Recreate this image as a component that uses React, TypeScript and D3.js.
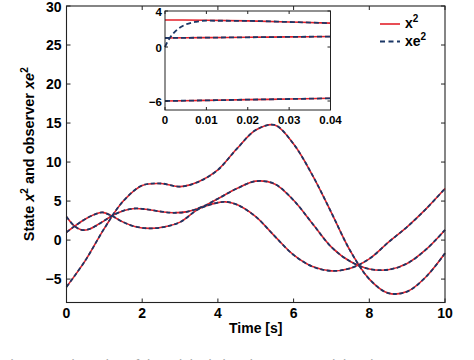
import React from 'react';
import * as d3 from 'd3';

// main plot: time axis
const tA = [0, 0.5, 1, 1.5, 2, 2.5, 3, 3.5, 4, 4.5, 5, 5.5, 6, 6.5, 7, 7.5, 8, 8.5, 9, 9.5, 10];
const stateA = [-6.0, -2.6, 1.5, 5.0, 7.0, 7.25, 6.85, 7.5, 9.0, 11.7, 14.1, 14.75, 12.3, 8.3, 3.5, -1.4, -5.0, -6.8, -6.6, -4.7, -1.7];

const tB = [0, 0.2, 0.4, 0.6, 0.8, 1.0, 1.2, 1.5, 1.8, 2.1, 2.5, 2.8, 3.2, 3.6, 4.0, 4.5, 5.0, 5.5, 6.0, 6.5, 7.0, 7.5, 8.0, 8.5, 9.0, 9.5, 10];
const stateB = [3.0, 1.85, 1.3, 1.4, 1.9, 2.5, 3.1, 3.75, 4.05, 3.95, 3.65, 3.5, 3.65, 4.3, 5.3, 6.6, 7.55, 7.2, 5.1, 2.1, -0.9, -2.75, -3.7, -3.8, -3.0, -1.2, 1.3];

const tC = [0, 0.25, 0.5, 0.75, 0.95, 1.2, 1.5, 1.8, 2.2, 2.6, 3.0, 3.5, 4.0, 4.2, 4.5, 5.0, 5.5, 6.0, 6.5, 7.0, 7.5, 8.0, 8.5, 9.0, 9.5, 10];
const stateC = [1.0, 1.9, 2.7, 3.3, 3.55, 3.1, 2.3, 1.75, 1.5, 1.7, 2.3, 4.0, 4.8, 4.9, 4.55, 3.0, 0.5, -1.9, -3.4, -3.95, -3.6, -2.4, -0.3, 1.7, 4.0, 6.6];

// inset (first 0.04 s)
const insetT = [0, 0.01, 0.02, 0.03, 0.04];
const inset1 = [3.0, 2.98, 2.9, 2.78, 2.65];
const inset2 = [1.0, 1.04, 1.08, 1.12, 1.16];
const inset3 = [-6.0, -5.93, -5.85, -5.78, -5.7];
const insetObsT = [0, 0.0005, 0.001, 0.002, 0.003, 0.005, 0.0075, 0.01, 0.02, 0.03, 0.04];
const insetObs1 = [0, 0.5, 0.9, 1.5, 1.95, 2.5, 2.8, 2.92, 2.9, 2.78, 2.65];

const xTicks = [0, 2, 4, 6, 8, 10];
const yTicks = [-5, 0, 5, 10, 15, 20, 25, 30];
const insetXTicks = [0, 0.01, 0.02, 0.03, 0.04];
const insetYTicks = [-6, 0, 4];

const RED = '#e3202a';
const BLUE = '#1b3766';
const FONT = 'Liberation Sans, Arial, sans-serif';

const zip = (ts: number[], vs: number[]) => ts.map((t, i) => [t, vs[i]] as [number, number]);

export default function App() {
  const x = d3.scaleLinear().domain([0, 10]).range([66.5, 445]);
  const y = d3.scaleLinear().domain([-8, 30]).range([302.5, 6]);

  const ix = d3.scaleLinear().domain([0, 0.04]).range([165, 330.5]);
  const iy = d3.scaleLinear().domain([-7, 4]).range([110, 11]);

  const line = d3.line<[number, number]>()
    .x(d => x(d[0]))
    .y(d => y(d[1]))
    .curve(d3.curveCatmullRom);

  const iline = d3.line<[number, number]>()
    .x(d => ix(d[0]))
    .y(d => iy(d[1]))
    .curve(d3.curveMonotoneX);

  const series = [zip(tA, stateA), zip(tB, stateB), zip(tC, stateC)];
  // observer tracks the state after a transient too short to show at this scale
  const observer = [zip(tA, stateA), zip(tB, stateB), zip(tC, stateC)];

  const insetState = [zip(insetT, inset1), zip(insetT, inset2), zip(insetT, inset3)];
  const insetObs = [zip(insetObsT, insetObs1), zip(insetT, inset2), zip(insetT, inset3)];

  const [x0, x1] = x.range();
  const [yb, yt] = y.range();
  const [ix0, ix1] = ix.range();
  const [iyb, iyt] = iy.range();

  return (
    <svg width={474} height={360} style={{ position: 'absolute', left: 0, top: 0, background: '#fff' }} fontFamily={FONT}>
      <rect width={474} height={360} fill="#fff" />

      {/* main curves */}
      {series.map((s, i) => (
        <path key={'s' + i} d={line(s) || ''} fill="none" stroke={RED} strokeWidth={1.6} />
      ))}
      {observer.map((s, i) => (
        <path key={'o' + i} d={line(s) || ''} fill="none" stroke={BLUE} strokeWidth={1.8} strokeDasharray="4 2.5" />
      ))}

      {/* main box + ticks */}
      <rect x={x0} y={yt} width={x1 - x0} height={yb - yt} fill="none" stroke="#222" strokeWidth={1.1} />
      {xTicks.map(t => (
        <g key={'xt' + t}>
          <line x1={x(t)} x2={x(t)} y1={yb} y2={yb - 4} stroke="#222" />
          <line x1={x(t)} x2={x(t)} y1={yt} y2={yt + 4} stroke="#222" />
          <text x={x(t)} y={318} textAnchor="middle" fontSize={14} fontWeight="bold">{t}</text>
        </g>
      ))}
      {yTicks.map(t => (
        <g key={'yt' + t}>
          <line x1={x0} x2={x0 + 4} y1={y(t)} y2={y(t)} stroke="#222" />
          <line x1={x1} x2={x1 - 4} y1={y(t)} y2={y(t)} stroke="#222" />
          <text x={61.5} y={Math.max(y(t) + 5, 12)} textAnchor="end" fontSize={14} fontWeight="bold">{t < 0 ? '\u2212' + Math.abs(t) : t}</text>
        </g>
      ))}

      <text x={(x0 + x1) / 2} y={333} textAnchor="middle" fontSize={14} fontWeight="bold">Time [s]</text>
      <text transform={`translate(34,${(yb + yt) / 2}) rotate(-90)`} textAnchor="middle" fontSize={14.5} fontWeight="bold">
        State <tspan fontStyle="italic">x</tspan><tspan dy={-6} fontSize={10}>2</tspan><tspan dy={6}> and observer </tspan>
        <tspan fontStyle="italic">xe</tspan><tspan dy={-6} fontSize={10}>2</tspan>
      </text>

      {/* legend */}
      <line x1={380} x2={400} y1={24} y2={24} stroke={RED} strokeWidth={1.6} />
      <text x={405} y={28} fontSize={14} fontWeight="bold">x<tspan dy={-6} fontSize={10}>2</tspan></text>
      <line x1={380} x2={400} y1={41.5} y2={41.5} stroke={BLUE} strokeWidth={2} strokeDasharray="5 3.5" />
      <text x={405} y={45.5} fontSize={14} fontWeight="bold">xe<tspan dy={-6} fontSize={10}>2</tspan></text>

      {/* inset */}
      <rect x={ix0} y={iyt} width={ix1 - ix0} height={iyb - iyt} fill="#fff" />
      {insetState.map((s, i) => (
        <path key={'is' + i} d={iline(s) || ''} fill="none" stroke={RED} strokeWidth={1.6} />
      ))}
      {insetObs.map((s, i) => (
        <path key={'io' + i} d={iline(s) || ''} fill="none" stroke={BLUE} strokeWidth={1.8} strokeDasharray="5 3" />
      ))}
      <rect x={ix0} y={iyt} width={ix1 - ix0} height={iyb - iyt} fill="none" stroke="#222" strokeWidth={1} />
      {insetXTicks.map(t => (
        <g key={'ixt' + t}>
          <line x1={ix(t)} x2={ix(t)} y1={iyb} y2={iyb - 3} stroke="#222" />
          <line x1={ix(t)} x2={ix(t)} y1={iyt} y2={iyt + 3} stroke="#222" />
          <text x={ix(t)} y={124} textAnchor="middle" fontSize={11.5} fontWeight="bold">{t}</text>
        </g>
      ))}
      {insetYTicks.map(t => (
        <g key={'iyt' + t}>
          <line x1={ix0} x2={ix0 + 3} y1={iy(t)} y2={iy(t)} stroke="#222" />
          <line x1={ix1} x2={ix1 - 3} y1={iy(t)} y2={iy(t)} stroke="#222" />
          <text x={162} y={iy(t) + 4.5} textAnchor="end" fontSize={11.5} fontWeight="bold">{t < 0 ? '\u2212' + Math.abs(t) : t}</text>
        </g>
      ))}

      {/* caption, cut off by the frame */}
      <text x={2} y={370} fontSize={14} fill="#a8a8a8" fontFamily={FONT}>
        Fig. 1{'\u2003'}Trajectories of the original chaotic system and the observer states
      </text>
    </svg>
  );
}
